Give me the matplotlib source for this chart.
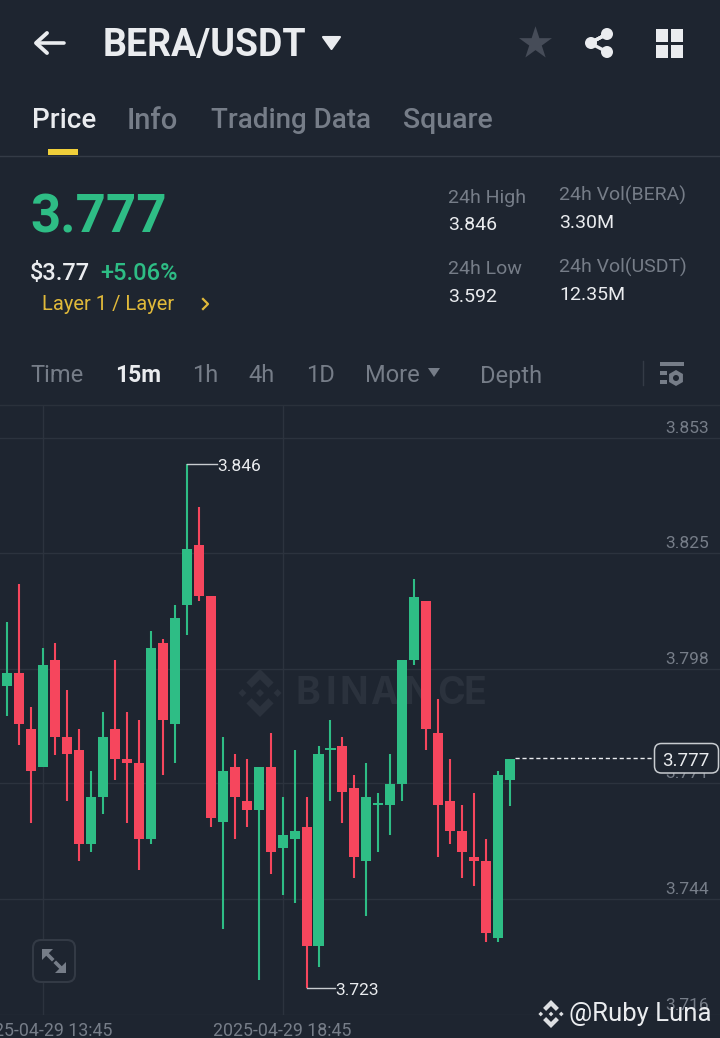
import numpy as np
import matplotlib
matplotlib.use("Agg")
import matplotlib.pyplot as plt
from matplotlib.patches import Rectangle, Polygon, RegularPolygon, Circle, FancyBboxPatch

# --- Candle data ---
opens = [3.7820, 3.7942, 3.7972, 3.7840, 3.7750, 3.8003, 3.7820, 3.7790, 3.7567, 3.7678, 3.7840,
         3.7769, 3.7759, 3.7578, 3.8043, 3.7851, 3.8135, 3.8276, 3.8155, 3.7618, 3.7750, 3.7668,
         3.7648, 3.7750, 3.7557, 3.7578, 3.7607, 3.7324, 3.7790, 3.7800, 3.7699, 3.7526, 3.7658,
         3.7658, 3.7709, 3.8003, 3.8144, 3.7830, 3.7668, 3.7597, 3.7536, 3.7526, 3.7344, 3.7719]
closes = [3.7942, 3.7972, 3.7851, 3.7739, 3.7992, 3.7820, 3.7779, 3.7567, 3.7678, 3.7820, 3.7769,
          3.7759, 3.7578, 3.8032, 3.7861, 3.8103, 3.8267, 3.8155, 3.7628, 3.7739, 3.7678, 3.7648,
          3.7750, 3.7547, 3.7587, 3.7597, 3.7324, 3.7779, 3.7794, 3.7689, 3.7536, 3.7678, 3.7663,
          3.7709, 3.8003, 3.8154, 3.7840, 3.7658, 3.7597, 3.7547, 3.7526, 3.7354, 3.7729, 3.7769]
highs = [3.7960, 3.8093, 3.8184, 3.7891, 3.8032, 3.8043, 3.7931, 3.7840, 3.7739, 3.7880, 3.8003,
         3.7880, 3.7860, 3.8073, 3.8052, 3.8134, 3.8469, 3.8366, 3.8155, 3.7820, 3.7779, 3.7769,
         3.7750, 3.7830, 3.7678, 3.7790, 3.7678, 3.7800, 3.7860, 3.7820, 3.7729, 3.7759, 3.7688,
         3.7779, 3.8003, 3.8195, 3.8144, 3.7911, 3.7769, 3.7658, 3.7688, 3.7578, 3.7739, 3.7769]
lows = [3.7820, 3.7870, 3.7801, 3.7617, 3.7750, 3.7778, 3.7668, 3.7526, 3.7547, 3.7638, 3.7718,
        3.7617, 3.7505, 3.7567, 3.7729, 3.7759, 3.8063, 3.8144, 3.7607, 3.7365, 3.7578, 3.7607,
        3.7243, 3.7496, 3.7445, 3.7425, 3.7224, 3.7274, 3.7668, 3.7617, 3.7486, 3.7395, 3.7547,
        3.7587, 3.7668, 3.7992, 3.7790, 3.7536, 3.7567, 3.7486, 3.7466, 3.7334, 3.7334, 3.7657]

price_ticks = [3.853, 3.825, 3.798, 3.771, 3.744, 3.716]
grid_levels = [3.8530, 3.8257, 3.7983, 3.7710, 3.7436, 3.7160]
time_ticks = [4, 24]
time_labels = ["2025-04-29 13:45", "2025-04-29 18:45"]
last_price = 3.777
high_label = "3.846"
low_label = "3.723"
high_idx, low_idx = 16, 26

tabs = ["Price", "Info", "Trading Data", "Square"]
intervals = ["Time", "15m", "1h", "4h", "1D", "More", "Depth"]

# --- Colours ---
BG = "#1E2530"
GREEN = "#2EBD85"
RED = "#F6465D"
GRID = "#2C333E"
GRAY = "#767D88"
WHITE = "#EAECEF"
YELLOW = "#F0CF3A"
MARK = "#2B323D"

FONT = "Roboto"
plt.rcParams["font.family"] = [FONT, "DejaVu Sans"]

fig = plt.figure(figsize=(7.2, 10.38), dpi=100, facecolor=BG)

# chart area runs from pixel row 405 to 1015, candle 0 sits just off the left edge
ax = fig.add_axes([0, (1038 - 1015) / 1038, 1, 610 / 1038], facecolor=BG)
ax.set_xlim(0.393, 60.54)
ax.set_ylim(3.7160, 3.8609)
ax.axis("off")
ax.set_zorder(2)


def draw_grid(ax):
    for level in grid_levels:
        ax.axhline(level, color=GRID, lw=1.0, zorder=1)
    for idx in time_ticks:
        ax.axvline(idx, color=GRID, lw=1.0, zorder=1)


def draw_logo(target, x, y, r, color, zorder=3):
    s = r / 6.0
    for dx in (-4.4, 4.4, 0):
        cx = x + dx * s
        target.add_patch(Polygon([(cx - s, y), (cx, y - s), (cx + s, y), (cx, y + s)],
                                 fc=color, ec="none", zorder=zorder))
    top = [(x, y - 6 * s), (x + 3.4 * s, y - 2.6 * s), (x + 2.1 * s, y - 1.3 * s), (x, y - 3.4 * s),
           (x - 2.1 * s, y - 1.3 * s), (x - 3.4 * s, y - 2.6 * s)]
    bottom = [(px, 2 * y - py) for px, py in top]
    target.add_patch(Polygon(top, fc=color, ec="none", zorder=zorder))
    target.add_patch(Polygon(bottom, fc=color, ec="none", zorder=zorder))


def draw_watermark():
    # sits under the candles, letters spaced out by hand
    ov = fig.add_axes([0, 0, 1, 1], facecolor="none")
    ov.set_xlim(0, 720)
    ov.set_ylim(1038, 0)
    ov.axis("off")
    ov.set_zorder(1)
    draw_logo(ov, 260, 693, 24, MARK)
    for x, ch in zip([295, 325, 339, 370, 403, 437, 463], "BINANCE"):
        ov.text(x, 693.5, ch, color=MARK, fontsize=27, fontweight="bold", family="Inter",
                ha="left", va="center")


def draw_candles(ax):
    idx = np.arange(len(opens))
    o, c = np.array(opens), np.array(closes)
    colors = [GREEN if b >= a else RED for a, b in zip(o, c)]
    ax.vlines(idx, lows, highs, colors=colors, lw=1.5, zorder=3)
    ax.bar(idx, np.abs(c - o), bottom=np.minimum(o, c), width=0.84, color=colors, lw=0, zorder=4)


def draw_chart_labels(ax):
    for level, tick in zip(grid_levels, price_ticks):
        ax.annotate(f"{tick:.3f}", (1, level), xycoords=("axes fraction", "data"), xytext=(-11, 2),
                    textcoords="offset pixels", ha="right", va="bottom", color=GRAY, fontsize=12.5)
    for idx, label in zip(time_ticks, time_labels):
        ax.annotate(label, (idx, 0), xycoords=("data", "axes fraction"), xytext=(0, -7),
                    textcoords="offset pixels", ha="center", va="top", color=GRAY, fontsize=12.8,
                    annotation_clip=False)
    # high / low markers
    ax.plot([high_idx, high_idx + 2.5], [highs[high_idx]] * 2, color="#C8CCD0", lw=1, zorder=5)
    ax.text(high_idx + 2.5, highs[high_idx] - 0.0005, high_label, color=WHITE, fontsize=12.5, va="center", zorder=5)
    ax.plot([low_idx, low_idx + 2.4], [lows[low_idx]] * 2, color="#C8CCD0", lw=1, zorder=5)
    ax.text(low_idx + 2.4, lows[low_idx] - 0.0005, low_label, color=WHITE, fontsize=12.5, va="center", zorder=5)
    # last price line
    ax.plot([43.4, 55], [last_price] * 2, color=WHITE, lw=1, ls=(0, (3, 2)), zorder=5)


draw_grid(ax)
draw_watermark()
draw_candles(ax)
draw_chart_labels(ax)

# --- Screen furniture, drawn in pixel coordinates ---
ui = fig.add_axes([0, 0, 1, 1], facecolor="none")
ui.set_xlim(0, 720)
ui.set_ylim(1038, 0)
ui.axis("off")
ui.set_zorder(3)


def label(x, y, s, color=WHITE, size=12, weight="normal", ha="left", **kw):
    ui.text(x, y, s, color=color, fontsize=size, fontweight=weight, ha=ha, va="center", **kw)


# top bar
ui.plot([37, 64], [43, 43], color=WHITE, lw=2.6, solid_capstyle="round")
ui.plot([47, 36, 47], [33, 43, 53], color=WHITE, lw=2.8, solid_capstyle="round", solid_joinstyle="round")
label(103, 45.5, "BERA/USDT", size=27, weight="bold")
ui.add_patch(Polygon([(323, 37), (340, 37), (331.5, 49)], fc=WHITE, ec=WHITE, lw=1.5, joinstyle="round"))
ui.scatter([535], [43], marker="*", s=620, color="#464C58", lw=0)
ui.plot([590, 609, 590, 609], [43, 33, 43, 53], color=WHITE, lw=2.4)
for cx, cy, r in [(591, 43, 6), (607, 34, 6), (607, 52, 6)]:
    ui.add_patch(Circle((cx, cy), r, fc=WHITE, ec="none"))
for cx, cy in [(656, 29), (671, 29), (656, 45), (671, 45)]:
    ui.add_patch(Rectangle((cx, cy), 12, 12.5, fc=WHITE, ec="none"))

# tabs
for x, tab, col, size in zip([32, 127, 211, 403], tabs, [WHITE, GRAY, GRAY, GRAY], [20, 21, 20, 20.5]):
    label(x, 121, tab, color=col, size=size, weight="medium")
ui.add_patch(Rectangle((48, 149), 30, 6, fc=YELLOW, ec="none"))
ui.plot([0, 720], [155.5, 155.5], color="#343B46", lw=1)

# price block
label(30, 218, "3.777", color=GREEN, size=38, weight="bold")
label(30, 273, "$3.77", size=17, weight="medium")
label(100, 273, "+5.06%", color=GREEN, size=17, weight="medium")
label(42, 304, "Layer 1 / Layer", color="#E0B93A", size=14.5)
ui.plot([203, 208, 203], [299, 304, 309], color="#E0B93A", lw=1.6)

for x, y, s, col in [(448, 198, "24h High", GRAY), (448, 225, "3.846", WHITE),
                     (559, 195, "24h Vol(BERA)", GRAY), (559, 223, "3.30M", WHITE),
                     (448, 269, "24h Low", GRAY), (448, 297, "3.592", WHITE),
                     (559, 267, "24h Vol(USDT)", GRAY), (559, 295, "12.35M", WHITE)]:
    label(x, y, s, color=col, size=14)

# interval row
for x, s in zip([30, 115, 192, 248, 306, 365, 480], intervals):
    if s == "15m":
        label(x, 376, s, size=16.5, weight="bold")
    else:
        label(x, 376, s, color=GRAY, size=17)
ui.add_patch(Polygon([(428, 368), (440, 368), (434, 377)], fc=GRAY, ec="none"))
ui.plot([643, 643], [361, 385], color="#343B46", lw=1)
ui.add_patch(Rectangle((660, 362), 24, 4, fc=GRAY, ec="none"))
ui.add_patch(Rectangle((660, 371), 7, 3.5, fc=GRAY, ec="none"))
ui.add_patch(Rectangle((660, 380), 7, 3.5, fc=GRAY, ec="none"))
ui.add_patch(RegularPolygon((676, 378), 6, radius=8, fc=GRAY, ec="none"))
ui.add_patch(Circle((676, 378), 3, fc=BG, ec="none"))
ui.plot([0, 720], [404.5, 404.5], color="#2A313B", lw=1)

# last price tag
ui.add_patch(FancyBboxPatch((654.5, 743.5), 64, 29.5, boxstyle="round,pad=0,rounding_size=7",
                            fc=BG, ec="#C8CCD0", lw=1.1, zorder=6))
label(686, 761, "3.777", size=13.5, ha="center", zorder=7)

# expand button
ui.add_patch(FancyBboxPatch((33, 940), 42, 42, boxstyle="round,pad=0,rounding_size=8",
                            fc=BG, ec="#333A45", lw=1.5, zorder=6))
for verts in ([(42, 949), (53, 949), (42, 960)], [(66, 973), (55, 973), (66, 962)]):
    ui.add_patch(Polygon(verts, fc=GRAY, ec="none", zorder=7))
ui.plot([46, 52], [953, 959], color=GRAY, lw=2.6, zorder=7)
ui.plot([62, 56], [969, 963], color=GRAY, lw=2.6, zorder=7)

# footer watermark
draw_logo(ui, 551, 1014, 14, "#DDDFE2", zorder=8)
label(569, 1014, "@Ruby Luna", size=18.5, zorder=8)

fig.savefig("out.png", dpi=100, facecolor=BG)
